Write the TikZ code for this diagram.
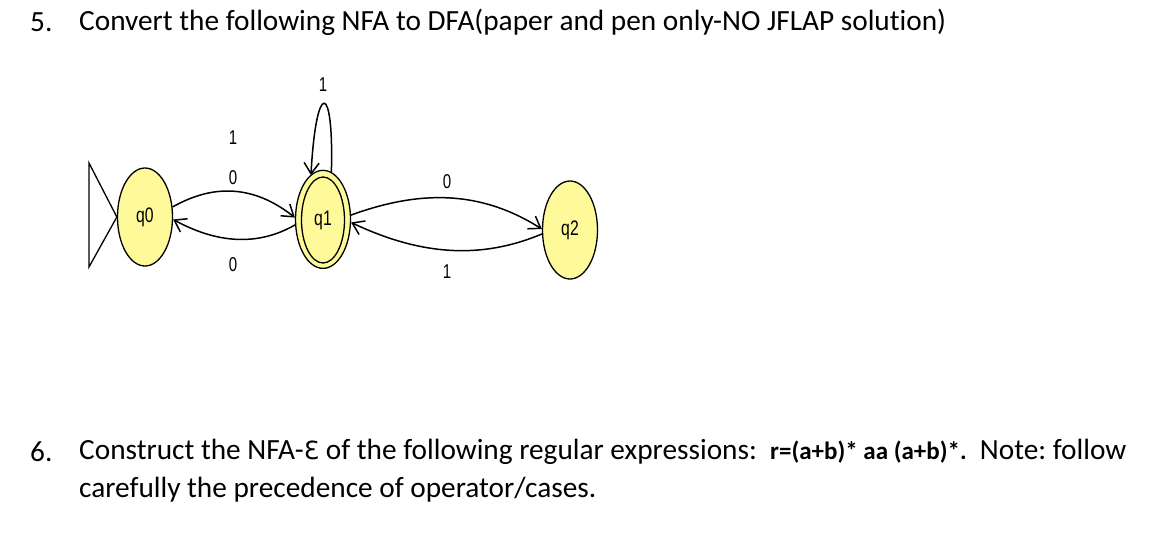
\documentclass[tikz,border=0pt]{standalone}
\usepackage{fontspec}
\setmainfont[Ligatures={NoCommon}]{Carlito}
\newfontfamily\djv{DejaVu Sans}
\newfontfamily\lsans[FakeStretch=0.75]{Liberation Sans}
\usetikzlibrary{arrows.meta,shapes.geometric}
\begin{document}
\begin{tikzpicture}[x=1pt,y=-1pt,
  st/.style={draw,line width=1.3pt,ellipse,fill=yellow!40!white,minimum width=55pt,minimum height=98pt,inner sep=0pt,font=\lsans\fontsize{21}{21}\selectfont},
  lab/.style={font=\lsans\fontsize{20}{20}\selectfont},
  tr/.style={draw,line width=1.5pt,-{Straight Barb[length=11pt,width=15pt]}},
  txt/.style={anchor=west,inner sep=0pt,font=\fontsize{29.3}{34}\selectfont}]
\useasboundingbox (0,0) rectangle (1158,544);
\node[txt] (t5a) at (30,22) {5.};
\node[txt] (t5) at (79,22) {Convert the following NFA to DFA(paper and pen only-NO JFLAP solution)};
\node[st] (q0) at (145,217) {q0};
\node[st,draw=none] (q1) at (323,220) {};
\node[draw,line width=1.3pt,ellipse,minimum width=43pt,minimum height=86pt,inner sep=0pt,font=\lsans\fontsize{21}{21}\selectfont] (q1i) at (q1) {q1};
\draw[line width=1.3pt] (q1.north) arc[x radius=27.5pt,y radius=49pt,start angle=90,delta angle=360];
\node[st] (q2) at (570,230) {q2};
\coordinate (i1) at (89,163);
\coordinate (i2) at (89,267);
\draw[line width=1.3pt] (i1) -- (q0.west) -- (i2) -- cycle;
\draw[tr] (q0.20) .. controls (220,180) and (260,190) .. (q1.175);
\draw[tr] (q1.190) .. controls (260,245) and (220,245) .. (q0.-5);
\draw[tr] (q1.10) .. controls (420,190) and (480,190) .. (q2.178);
\draw[tr] (q2.188) .. controls (480,260) and (420,255) .. (q1.-5);
\draw[tr] (q1.80) .. controls (334,80) and (316,80) .. (q1.105);
\node[lab] (l1) at (233,138) {1};
\node[lab] (l2) at (233,178) {0};
\node[lab] (l3) at (233,265) {0};
\node[lab] (l4) at (447,182) {0};
\node[lab] (l5) at (447,272) {1};
\node[lab] (l6) at (323,85) {1};
\node[txt] (t6a) at (30,452) {6.};
\node[txt] (t6) at (79,452) {Construct the NFA-{\djv\fontsize{25}{28}\selectfont Ɛ} of the following regular expressions:\ \ \textbf{\fontsize{25}{28}\selectfont r=(a+b)* aa (a+b)*.}\ \ Note:\ follow};
\node[txt] (t6b) at (79,490) {carefully the precedence of operator/cases.};
\end{tikzpicture}
\end{document}
